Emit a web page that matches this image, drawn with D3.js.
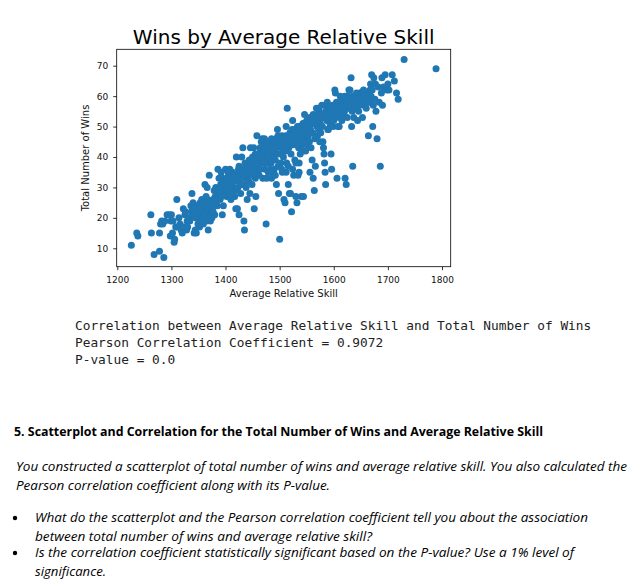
<!DOCTYPE html>
<html>
<head>
<meta charset="utf-8">
<script src="https://cdn.jsdelivr.net/npm/d3@7"></script>
<style>
  body { margin: 0; background: #fff; }
  svg { display: block; }
</style>
</head>
<body>
<svg id="chart" width="641" height="585"></svg>
<script>
// scatter data: average relative skill vs total wins
const skill = [
  1226, 1236, 1238, 1262, 1263, 1268, 1278, 1278, 1280, 1282, 1284, 1286, 1288,
  1292, 1296, 1298, 1299, 1300, 1302, 1303, 1305, 1306, 1308,
  1310, 1312, 1314, 1316, 1318, 1320, 1322, 1323, 1325, 1326, 1328, 1329,
  1330, 1332, 1334, 1336, 1337, 1338, 1339,
  1340, 1342, 1343, 1344, 1345, 1346, 1347, 1348, 1349,
  1350, 1351, 1352, 1353, 1354, 1355, 1356, 1357, 1358, 1359,
  1360, 1361, 1362, 1363, 1364, 1365, 1366, 1367, 1368, 1369,
  1370, 1371, 1372, 1373, 1374, 1375, 1376, 1377, 1378, 1379,
  1380, 1381, 1382, 1384, 1385, 1386, 1387, 1388, 1389,
  1390, 1391, 1392, 1393, 1394, 1395, 1396, 1397, 1398, 1399,
  1400, 1401, 1402, 1403, 1404, 1405, 1406, 1407, 1408, 1409,
  1410, 1411, 1412, 1413, 1414, 1415, 1416, 1417, 1418, 1419,
  1420, 1421, 1422, 1423, 1424, 1425, 1426, 1427, 1428, 1429,
  1430, 1431, 1432, 1433, 1434, 1435, 1436, 1437, 1438, 1439,
  1440, 1441, 1442, 1443, 1444, 1445, 1446, 1447, 1448, 1449,
  1450, 1451, 1452, 1453, 1454, 1455, 1456, 1457, 1458, 1459,
  1460, 1461, 1462, 1463, 1464, 1465, 1466, 1467, 1468, 1469,
  1470, 1471, 1472, 1473, 1474, 1475, 1476, 1477, 1478, 1479,
  1480, 1481, 1482, 1483, 1484, 1485, 1486, 1487, 1488, 1489,
  1490, 1491, 1492, 1493, 1494, 1495, 1496, 1497, 1498, 1499,
  1500, 1500, 1501, 1502, 1503, 1504, 1505, 1506, 1507, 1508, 1509,
  1510, 1511, 1512, 1513, 1514, 1515, 1516, 1517, 1518, 1519,
  1520, 1521, 1522, 1523, 1524, 1525, 1526, 1527, 1528, 1529,
  1530, 1531, 1532, 1533, 1534, 1535, 1536, 1537, 1538, 1539,
  1540, 1541, 1542, 1543, 1544, 1545, 1546, 1547, 1548, 1549,
  1550, 1552, 1553, 1554, 1555, 1556, 1557, 1558, 1559,
  1560, 1561, 1562, 1563, 1564, 1565, 1566, 1567, 1568, 1569,
  1570, 1571, 1572, 1573, 1574, 1575, 1576, 1577, 1578, 1579,
  1580, 1581, 1582, 1583, 1584, 1585, 1586, 1587, 1588, 1589,
  1590, 1591, 1592, 1593, 1594, 1595, 1596, 1597, 1598, 1599,
  1600, 1601, 1602, 1603, 1604, 1605, 1606, 1607, 1608, 1609,
  1610, 1611, 1612, 1613, 1614, 1615, 1616, 1617, 1618,
  1620, 1621, 1622, 1623, 1624, 1625, 1626, 1627, 1628, 1629,
  1630, 1632, 1633, 1634, 1635, 1636, 1637, 1638, 1639,
  1640, 1642, 1644, 1645, 1646, 1648, 1649,
  1650, 1652, 1653, 1654, 1656, 1658,
  1660, 1662, 1664, 1666, 1668, 1669,
  1670, 1671, 1672, 1673, 1674, 1676, 1677, 1678,
  1680, 1682, 1684, 1686, 1688, 1689,
  1690, 1692, 1695, 1698,
  1700, 1702, 1708, 1712, 1716, 1719,
  1730, 1789,
  // more of the dense band
  1341, 1344, 1352, 1356, 1358, 1361, 1364, 1366, 1369, 1372, 1375, 1377, 1380, 1383,
  1392, 1396, 1402, 1405, 1408, 1411, 1414, 1418, 1422, 1425, 1428, 1431, 1435, 1438,
  1441, 1444, 1447, 1449,
  1452, 1455, 1458, 1461, 1464, 1467, 1470, 1473, 1476, 1479, 1482, 1485, 1488, 1491,
  1494, 1497, 1502, 1505, 1508, 1511, 1514, 1517, 1520, 1523, 1526, 1530, 1533, 1536,
  1540, 1543, 1547, 1550,
  1553, 1556, 1559, 1562, 1565, 1569, 1572, 1575, 1578, 1582, 1585, 1588, 1592, 1595,
  1598, 1603, 1606, 1609, 1612, 1616, 1620, 1623, 1627, 1631, 1635, 1638, 1642, 1645,
  1648, 1651, 1655, 1659, 1663, 1667,
  1484, 1492, 1504, 1512, 1516, 1524, 1530, 1536
];

const wins = [
  11, 15, 14, 21, 15, 8, 9, 15, 18, 19, 18, 7, 19,
  21, 21, 14, 19, 21, 15, 19, 12, 13, 17,
  26, 17, 20, 18, 16, 15, 23, 17, 21, 22, 16, 19,
  17, 20, 19, 24, 22, 28, 21,
  25, 15, 23, 16, 22, 15, 20, 24, 18,
  22, 19, 17, 25, 24, 21, 26, 23, 20, 18,
  22, 25, 31, 20, 24, 19, 30, 26, 16, 22,
  34, 21, 19, 24, 23, 20, 21, 26, 25, 29,
  21, 27, 30, 29, 24, 36, 26, 33, 28,
  26, 31, 35, 29, 21, 33, 24, 30, 28, 32,
  36, 29, 27, 33, 32, 30, 34, 28, 36, 31,
  26, 33, 29, 35, 30, 32, 34, 27, 29, 23,
  40, 33, 23, 30, 36, 21, 32, 35, 28, 34,
  40, 31, 43, 36, 19, 16, 38, 33, 30, 35,
  26, 37, 34, 32, 39, 28, 43, 36, 35, 31,
  40, 38, 43, 23, 36, 33, 27, 39, 47, 35,
  41, 37, 34, 39, 36, 42, 45, 38, 46, 33,
  44, 40, 46, 36, 41, 18, 33, 43, 38, 35,
  42, 39, 36, 44, 38, 33, 41, 45, 34, 40,
  36, 43, 39, 46, 31, 41, 49, 37, 28, 44,
  13, 45, 41, 38, 43, 47, 35, 44, 40, 26, 46,
  25, 42, 50, 38, 56, 45, 31, 43, 28, 48,
  28, 41, 22, 46, 52, 44, 34, 49, 39, 47,
  27, 45, 25, 50, 34, 43, 38, 48, 41, 46,
  27, 44, 49, 42, 27, 51, 54, 46, 42, 48,
  44, 50, 47, 52, 45, 35, 49, 43, 53,
  39, 48, 33, 51, 29, 46, 37, 53, 56, 50,
  47, 52, 49, 55, 45, 51, 48, 53, 54, 50,
  45, 43, 41, 38, 35, 31, 57, 52, 55, 49,
  49, 53, 56, 51, 54, 41, 36, 52, 57, 50,
  52, 55, 62, 61, 53, 58, 33, 56, 50, 54,
  50, 57, 53, 55, 59, 52, 56, 54, 58,
  55, 33, 57, 31, 59, 53, 60, 56, 62, 58,
  62, 66, 50, 55, 37, 58, 53, 56, 60,
  56, 59, 52, 57, 55, 61, 58,
  61, 58, 53, 60, 57, 59,
  56, 61, 47, 58, 64, 60,
  67, 62, 50, 57, 66, 59, 64, 55,
  46, 63, 58, 37, 61, 66,
  57, 63, 67, 62,
  64, 62, 67, 65, 61, 59,
  72, 69,
  // more of the dense band
  21, 20, 23, 19, 25, 21, 27, 23, 20, 25, 23, 22, 24, 26,
  27, 31, 31, 35, 30, 28, 33, 32, 34, 37, 31, 35, 34, 37,
  32, 36, 39, 34,
  37, 41, 38, 40, 43, 41, 38, 42, 45, 40, 43, 46, 42, 45,
  43, 47, 44, 46, 42, 47, 44, 47, 45, 49, 47, 48, 46, 50,
  47, 51, 49, 52,
  50, 53, 51, 54, 52, 54, 56, 53, 57, 53, 55, 58, 54, 56,
  54, 57, 55, 58, 60, 58, 60, 57, 59, 57, 60, 58, 61, 59,
  57, 59, 62, 60, 58, 62,
  35, 34, 36, 35, 37, 36, 38, 35
];

const xTicks = [1200, 1300, 1400, 1500, 1600, 1700, 1800];
const yTicks = [10, 20, 30, 40, 50, 60, 70];

const chartTitle = "Wins by Average Relative Skill";
const xLabel = "Average Relative Skill";
const yLabel = "Total Number of Wins";

const outputLines = [
  "Correlation between Average Relative Skill and Total Number of Wins",
  "Pearson Correlation Coefficient = 0.9072",
  "P-value = 0.0"
];

const heading = "5.  Scatterplot and Correlation for the Total Number of Wins and Average Relative Skill";
const introLines = [
  "You constructed a scatterplot of total number of wins and average relative skill. You also calculated the",
  "Pearson correlation coefficient along with its P-value."
];
const bullets = [
  ["What do the scatterplot and the Pearson correlation coefficient tell you about the association",
   "between total number of wins and average relative skill?"],
  ["Is the correlation coefficient statistically significant based on the P-value? Use a 1% level of",
   "significance."]
];

const svg = d3.select("#chart");
const plot = { left: 116.7, right: 450.7, top: 49.3, bottom: 266.7 };

const x = d3.scaleLinear()
  .domain([1198.9, 1816.1])
  .range([plot.left, plot.right]);

const y = d3.scaleLinear()
  .domain([3.95, 75.39])
  .range([plot.bottom, plot.top]);

const mplFont = "'DejaVu Sans', sans-serif";

// title
svg.append("text")
  .attr("x", (plot.left + plot.right) / 2)
  .attr("y", 44)
  .attr("text-anchor", "middle")
  .attr("font-family", mplFont)
  .attr("font-size", "20px")
  .attr("fill", "#000")
  .text(chartTitle);

// points
svg.append("g")
  .selectAll("circle")
  .data(skill.map((s, i) => ({ s, w: wins[i] })))
  .enter()
  .append("circle")
  .attr("cx", d => x(d.s))
  .attr("cy", d => y(d.w))
  .attr("r", 3.5)
  .attr("fill", "#1f77b4");

// axes
const xAxis = svg.append("g")
  .attr("transform", `translate(0,${plot.bottom})`)
  .call(d3.axisBottom(x).tickValues(xTicks).tickFormat(d3.format("d"))
    .tickSize(3.5).tickPadding(6).tickSizeOuter(0));

const yAxis = svg.append("g")
  .attr("transform", `translate(${plot.left},0)`)
  .call(d3.axisLeft(y).tickValues(yTicks).tickFormat(d3.format("d"))
    .tickSize(3.5).tickPadding(5).tickSizeOuter(0));

[xAxis, yAxis].forEach(a => {
  a.select(".domain").remove();
  a.attr("font-family", mplFont);
  a.selectAll("text")
    .attr("font-family", mplFont)
    .attr("font-size", "9px")
    .attr("fill", "#111");
  a.selectAll("line").attr("stroke", "#000").attr("stroke-width", 0.8);
});

// frame
svg.append("rect")
  .attr("x", plot.left)
  .attr("y", plot.top)
  .attr("width", plot.right - plot.left)
  .attr("height", plot.bottom - plot.top)
  .attr("fill", "none")
  .attr("stroke", "#000")
  .attr("stroke-width", 0.8);

svg.append("text")
  .attr("x", (plot.left + plot.right) / 2)
  .attr("y", 297)
  .attr("text-anchor", "middle")
  .attr("font-family", mplFont)
  .attr("font-size", "10px")
  .attr("fill", "#111")
  .text(xLabel);

svg.append("text")
  .attr("transform", `translate(89,${(plot.top + plot.bottom) / 2}) rotate(-90)`)
  .attr("text-anchor", "middle")
  .attr("font-family", mplFont)
  .attr("font-size", "10px")
  .attr("fill", "#111")
  .text(yLabel);

// printed output under the chart
outputLines.forEach((line, i) => {
  svg.append("text")
    .attr("x", 75)
    .attr("y", 330 + i * 16.8)
    .attr("font-family", "'DejaVu Sans Mono', monospace")
    .attr("font-size", "12.8px")
    .attr("fill", "#222")
    .text(line);
});

// question text
const docFont = "'Open Sans', 'Liberation Sans', sans-serif";

svg.append("text")
  .attr("x", 14)
  .attr("y", 436)
  .attr("font-family", docFont)
  .attr("font-weight", "bold")
  .attr("font-size", "12.5px")
  .attr("textLength", 529)
  .attr("lengthAdjust", "spacingAndGlyphs")
  .attr("fill", "#000")
  .text(heading);

const introLen = [611, 314];
introLines.forEach((line, i) => {
  svg.append("text")
    .attr("x", 16)
    .attr("y", 471 + i * 19)
    .attr("font-family", docFont)
    .attr("font-style", "italic")
    .attr("font-size", "12.5px")
    .attr("textLength", introLen[i])
    .attr("lengthAdjust", "spacingAndGlyphs")
    .attr("fill", "#000")
    .text(line);
});

const bulletY = [522, 557];
const bulletLen = [[553, 337], [539, 71]];
bullets.forEach((lines, b) => {
  svg.append("circle")
    .attr("cx", 15)
    .attr("cy", bulletY[b] - 4)
    .attr("r", 2.2)
    .attr("fill", "#000");
  lines.forEach((line, i) => {
    svg.append("text")
      .attr("x", 35)
      .attr("y", bulletY[b] + i * 18.5)
      .attr("font-family", docFont)
      .attr("font-style", "italic")
      .attr("font-size", "12.5px")
      .attr("textLength", bulletLen[b][i])
      .attr("lengthAdjust", "spacingAndGlyphs")
      .attr("fill", "#000")
      .text(line);
  });
});
</script>
</body>
</html>
